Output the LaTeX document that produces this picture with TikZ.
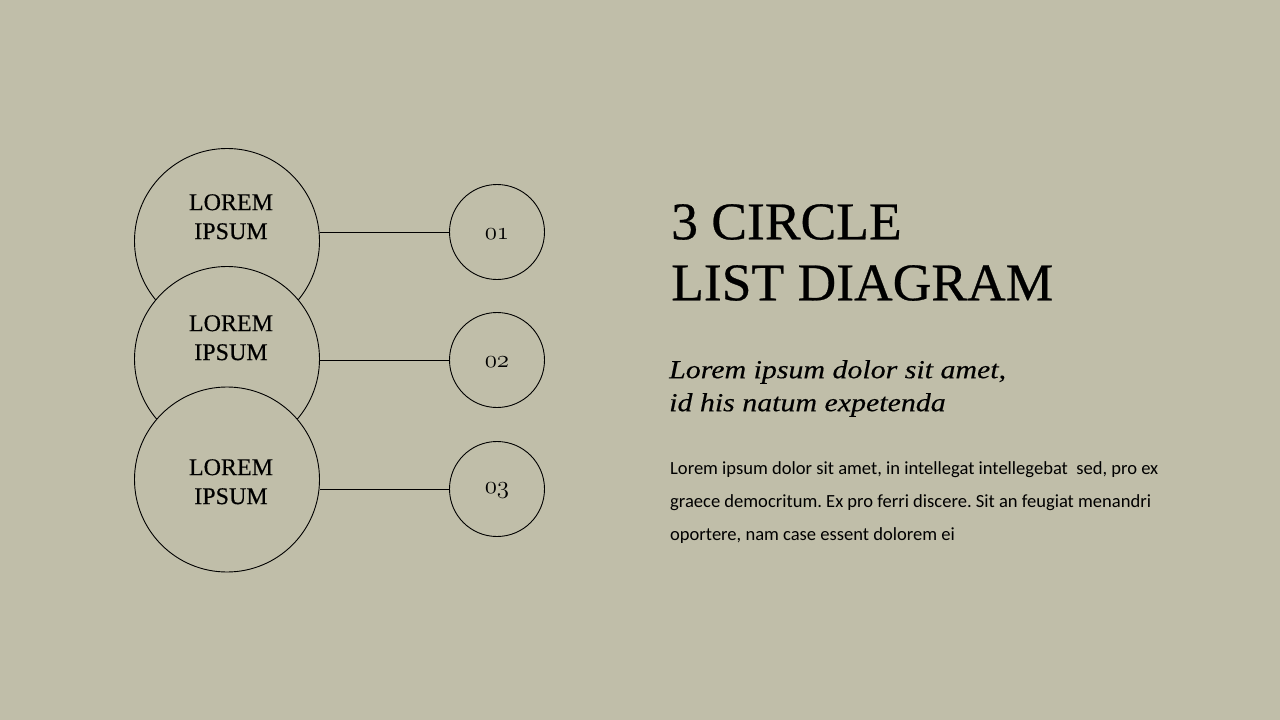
\documentclass[tikz,border=0pt]{standalone}
\usepackage{fontspec}
\setmainfont[FakeBold=0.3]{Liberation Serif}
\newfontfamily\titlefont[FakeStretch=1.01,FakeBold=0.5]{Liberation Serif}
\newfontfamily\subfont[FakeStretch=1.15,FakeBold=0.3]{Liberation Serif}
\newfontfamily\bodyfont{Carlito}
\newcommand\oldnum[1]{{\usefont{OML}{cmm}{m}{it}#1}}
\definecolor{bgcol}{RGB}{192,190,169}
\tikzset{
  bigcirc/.style={circle, draw=black, line width=0.9pt, fill=bgcol, minimum size=185pt, inner sep=0pt, outer sep=0pt},
  smallcirc/.style={circle, draw=black, line width=0.9pt, fill=bgcol, minimum size=95pt, inner sep=0pt, outer sep=0pt},
  conn/.style={draw=black, line width=0.9pt},
  loremtxt/.style={anchor=north, align=center, inner sep=0pt, font=\fontsize{24}{29}\selectfont},
  numtxt/.style={inner sep=0pt, font=\fontsize{27}{27}\selectfont}
}
\begin{document}
\begin{tikzpicture}[x=1pt, y=-1pt]
\useasboundingbox (0,0) rectangle (1280,720);
\fill[bgcol] (0,0) rectangle (1280,720);
% big circles
\node[bigcirc] (b1) at (227,241) {};
\node[bigcirc] (b2) at (227,359) {};
\node[bigcirc] (b3) at (227,479.5) {};
\node[loremtxt] (t1) at (231,194) {LOREM\\IPSUM};
\node[loremtxt] (t2) at (231,315) {LOREM\\IPSUM};
\node[loremtxt] (t3) at (231,459) {LOREM\\IPSUM};
% small circles
\node[smallcirc] (s1) at (497,232) {};
\node[smallcirc] (s2) at (497,360) {};
\node[smallcirc] (s3) at (497,489) {};
\node[numtxt] (n1) at (497,234) {\oldnum{01}};
\node[numtxt] (n2) at (497,362) {\oldnum{02}};
\node[numtxt] (n3) at (497,491) {\oldnum{03}};
% connectors
\draw[conn] (s1.west) -- (s1.west -| b1.east);
\draw[conn] (s2.west) -- (s2.west -| b2.east);
\draw[conn] (s3.west) -- (s3.west -| b3.east);
% right texts
\node[anchor=north west, align=left, inner sep=0pt, font=\titlefont\fontsize{53}{61}\selectfont] (title) at (671,204) {3 CIRCLE\\LIST DIAGRAM};
\node[anchor=north west, align=left, inner sep=0pt, font=\subfont\itshape\fontsize{26}{33}\selectfont] (sub) at (669,360) {Lorem ipsum dolor sit amet,\\id his natum expetenda};
\node[anchor=north west, align=left, inner sep=0pt, font=\bodyfont\frenchspacing\fontsize{18.55}{33.3}\selectfont] (body) at (670,461) {Lorem ipsum dolor sit amet, in intellegat intellegebat~ sed, pro ex\\graece democritum. Ex pro ferri discere. Sit an feugiat menandri\\oportere, nam case essent dolorem ei};
\end{tikzpicture}
\end{document}
